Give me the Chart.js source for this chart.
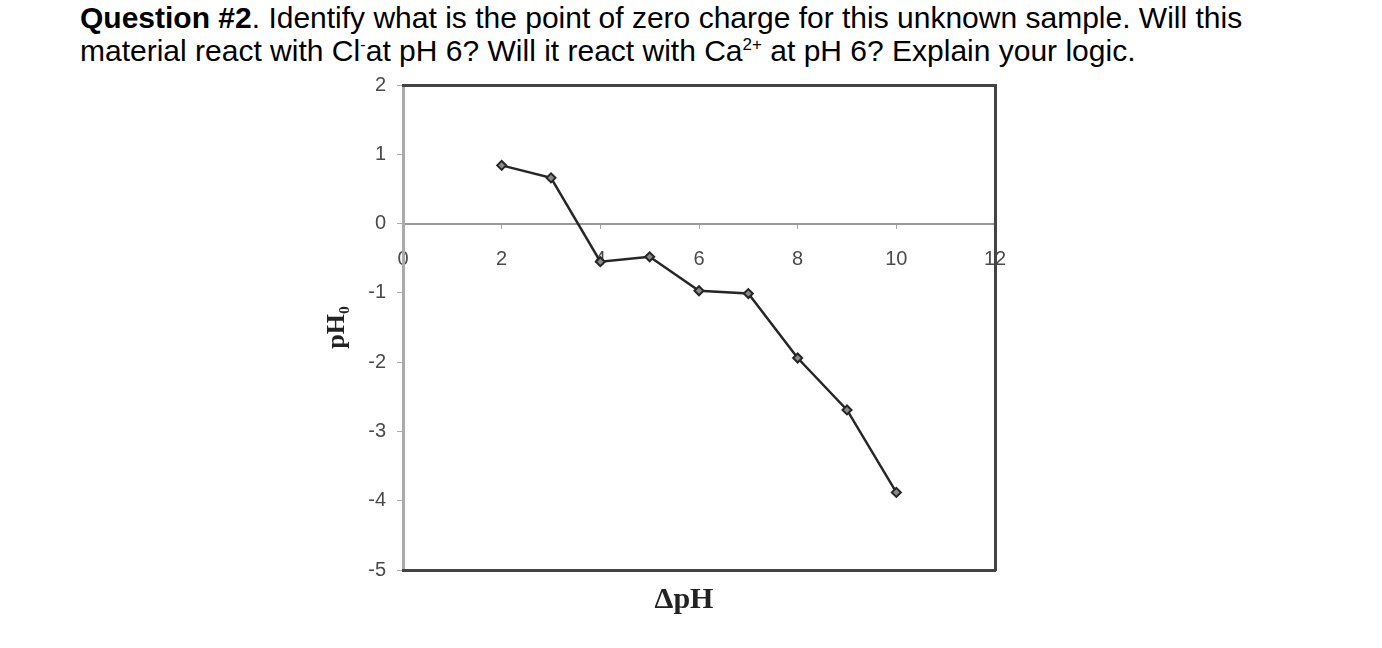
<!DOCTYPE html>
<html>
<head>
<meta charset="utf-8">
<script src="https://cdn.jsdelivr.net/npm/chart.js@4/dist/chart.umd.min.js"></script>
<style>
  html, body { margin: 0; padding: 0; background: #fff; }
  body { width: 1382px; height: 648px; position: relative; overflow: hidden; }
  #question {
    position: absolute; left: 80px; top: 1px;
    font-family: "Liberation Sans", Arial, sans-serif;
    font-size: 30px; line-height: 33px; color: #000;
    white-space: nowrap;
  }
  #question sup { font-size: 17px; vertical-align: 11px; line-height: 0; }
  #wrap { position: absolute; left: 0; top: 0; width: 1382px; height: 648px; }
</style>
</head>
<body>
<div id="question"><b>Question #2</b>. Identify what is the point of zero charge for this unknown sample. Will this<br>material react with Cl<sup>-</sup>at pH 6? Will it react with Ca<sup>2+</sup> at pH 6? Explain your logic.</div>
<div id="wrap"><canvas id="pzcChart"></canvas></div>
<script>
// Values
const deltaPH = [2, 3, 4, 5, 6, 7, 8, 9, 10];
const pH0 = [0.84, 0.66, -0.55, -0.48, -0.97, -1.01, -1.94, -2.69, -3.88];
const xTicks = [0, 2, 4, 6, 8, 10, 12];
const yTicks = [2, 1, 0, -1, -2, -3, -4, -5];

const points = deltaPH.map((x, i) => ({ x: x, y: pH0[i] }));

const tickFont = { family: '"Liberation Sans", Arial, sans-serif', size: 20 };
const serif = '"Liberation Serif", "Times New Roman", serif';

// extra axes only used as the dark frame around the plot
function frameAxis(position, axis) {
    return {
        type: 'linear',
        axis: axis,
        position: position,
        min: axis === 'x' ? 0 : -5,
        max: axis === 'x' ? 12 : 2,
        grid: { display: false, drawTicks: false },
        ticks: { display: false },
        border: { color: '#444', width: 3 }
    };
}

const ctx = document.getElementById('pzcChart').getContext('2d');
new Chart(ctx, {
    type: 'scatter',
    data: {
        datasets: [{
            data: points,
            showLine: true,
            borderColor: '#262626',
            borderWidth: 2.5,
            pointStyle: 'rectRot',
            pointRadius: 4.5,
            pointBorderWidth: 2,
            pointBorderColor: '#262626',
            pointBackgroundColor: '#8a8a8a'
        }]
    },
    options: {
        responsive: true,
        maintainAspectRatio: false,
        animation: false,
        layout: { padding: { left: 322, right: 387, top: 85, bottom: 26 } },
        plugins: { legend: { display: false }, tooltip: { enabled: false } },
        scales: {
            x: {
                type: 'linear',
                position: { y: 0 },
                min: 0,
                max: 12,
                afterBuildTicks: axis => { axis.ticks = xTicks.map(v => ({ value: v })); },
                ticks: { font: tickFont, color: '#4a4a4a', padding: 20, maxRotation: 0 },
                grid: { drawOnChartArea: false, tickLength: 4, color: '#aaa' },
                border: { color: '#9a9a9a', width: 2 }
            },
            y: {
                type: 'linear',
                position: 'left',
                min: -5,
                max: 2,
                afterBuildTicks: axis => { axis.ticks = yTicks.map(v => ({ value: v })); },
                afterFit: axis => { axis.width = 81; },
                ticks: { font: tickFont, color: '#4a4a4a', padding: 11 },
                grid: { drawOnChartArea: false, tickLength: 6, color: '#aaa' },
                border: { color: '#aaa', width: 3 },
                title: { display: true, text: 'pH₀', font: { family: serif, size: 26, weight: 'bold' }, color: '#222', padding: 0 }
            },
            xTop: frameAxis('top', 'x'),
            yRight: frameAxis('right', 'y'),
            xBottom: Object.assign(frameAxis('bottom', 'x'), {
                title: {
                    display: true,
                    text: 'ΔpH\u00a0\u00a0\u00a0\u00a0',
                    font: { family: serif, size: 30, weight: 'bold' },
                    color: '#222',
                    padding: { top: 12, bottom: 4 }
                }
            })
        }
    }
});
</script>
</body>
</html>
